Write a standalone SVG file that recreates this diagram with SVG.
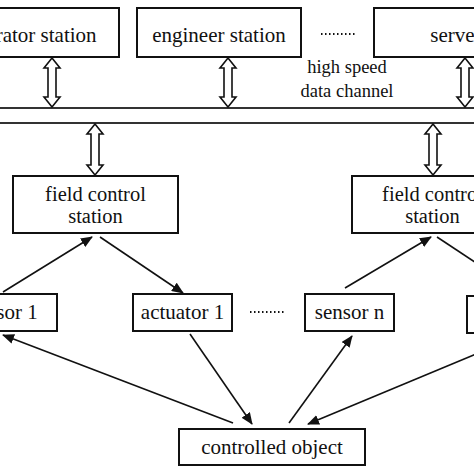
<svg xmlns="http://www.w3.org/2000/svg" width="474" height="474" viewBox="0 0 474 474">
<defs>
<style>
.box{fill:#fff;stroke:#111;stroke-width:2}
.t{font-family:"Liberation Serif","Times New Roman",serif;font-size:21px;fill:#111;text-anchor:middle}
.f{font-size:20.5px}
.s{font-family:"Liberation Serif","Times New Roman",serif;font-size:18.5px;fill:#111;text-anchor:middle}
.dbl{fill:#fff;stroke:#111;stroke-width:1.6;stroke-linejoin:miter}
.ln{stroke:#111;stroke-width:1.6;fill:none;marker-end:url(#ah)}
.bus{stroke:#333;stroke-width:2}
.dots{stroke:#111;stroke-width:2;stroke-dasharray:1.5 2.5}
</style>
<marker id="ah" viewBox="0 0 12 10" refX="11" refY="5" markerWidth="12" markerHeight="10" markerUnits="userSpaceOnUse" orient="auto">
<path d="M0,0 L12,5 L0,10 z" fill="#111"/>
</marker>
</defs>
<rect width="474" height="474" fill="#fff"/>
<g id="bus">
<line class="bus" x1="0" y1="108" x2="474" y2="108" stroke="#555"/>
<line class="bus" x1="0" y1="123" x2="474" y2="123"/>
<text class="s" x="347" y="73">high speed</text>
<text class="s" x="347" y="97">data channel</text>
</g>
<g id="operator"><rect class="box" x="-50" y="8" width="169" height="49"/><text class="t" x="31" y="42">operator station</text></g>
<g id="engineer"><rect class="box" x="137" y="8" width="164" height="49"/><text class="t" x="219" y="42">engineer station</text></g>
<g id="server"><rect class="box" x="374" y="8" width="164" height="49"/><text class="t" x="456" y="42">server</text></g>
<line class="dots" x1="321" y1="34" x2="356" y2="34"/>
<g id="fcs1"><rect class="box" x="13" y="176" width="165" height="57"/><text class="t f" x="95.5" y="201">field control</text><text class="t f" x="95.5" y="223">station</text></g>
<g id="fcs2"><rect class="box" x="352" y="176" width="161" height="57"/><text class="t f" x="432.5" y="201">field control</text><text class="t f" x="432.5" y="223">station</text></g>
<g id="sensor1"><rect class="box" x="-55" y="294" width="112" height="37"/><text class="t" x="3" y="319">sensor 1</text></g>
<g id="actuator1"><rect class="box" x="133" y="294" width="99" height="37"/><text class="t" x="182.5" y="319">actuator 1</text></g>
<line class="dots" x1="250" y1="312" x2="284" y2="312"/>
<g id="sensorn"><rect class="box" x="305" y="294" width="89" height="37"/><text class="t" x="349.5" y="319">sensor n</text></g>
<g id="actuatorn"><rect class="box" x="467" y="296" width="110" height="37"/><text class="t" x="522" y="321">actuator n</text></g>
<g id="object"><rect class="box" x="179" y="429" width="186" height="36"/><text class="t" x="272" y="454">controlled object</text></g>
<g id="connectors">
<polygon class="dbl" points="52,58 60,68 56,68 56,97 60,97 52,107 44,97 48,97 48,68 44,68"/>
<polygon class="dbl" points="228,58 236,68 232,68 232,97 236,97 228,107 220,97 224,97 224,68 220,68"/>
<polygon class="dbl" points="465,58 473,68 469,68 469,97 473,97 465,107 457,97 461,97 461,68 457,68"/>
<polygon class="dbl" points="95,124 103,134 99,134 99,165 103,165 95,175 87,165 91,165 91,134 87,134"/>
<polygon class="dbl" points="433,124 441,134 437,134 437,165 441,165 433,175 425,165 429,165 429,134 425,134"/>
<line class="ln" x1="3" y1="292" x2="92" y2="237"/>
<line class="ln" x1="100" y1="237" x2="183" y2="293"/>
<line class="ln" x1="190" y1="334" x2="252" y2="424"/>
<line class="ln" x1="233" y1="423" x2="3" y2="335"/>
<line class="ln" x1="345" y1="288" x2="431" y2="237"/>
<line class="ln" x1="437" y1="237" x2="520" y2="292"/>
<line class="ln" x1="289" y1="423" x2="352" y2="336"/>
<line class="ln" x1="500" y1="344" x2="308" y2="424"/>
</g>
</svg>
